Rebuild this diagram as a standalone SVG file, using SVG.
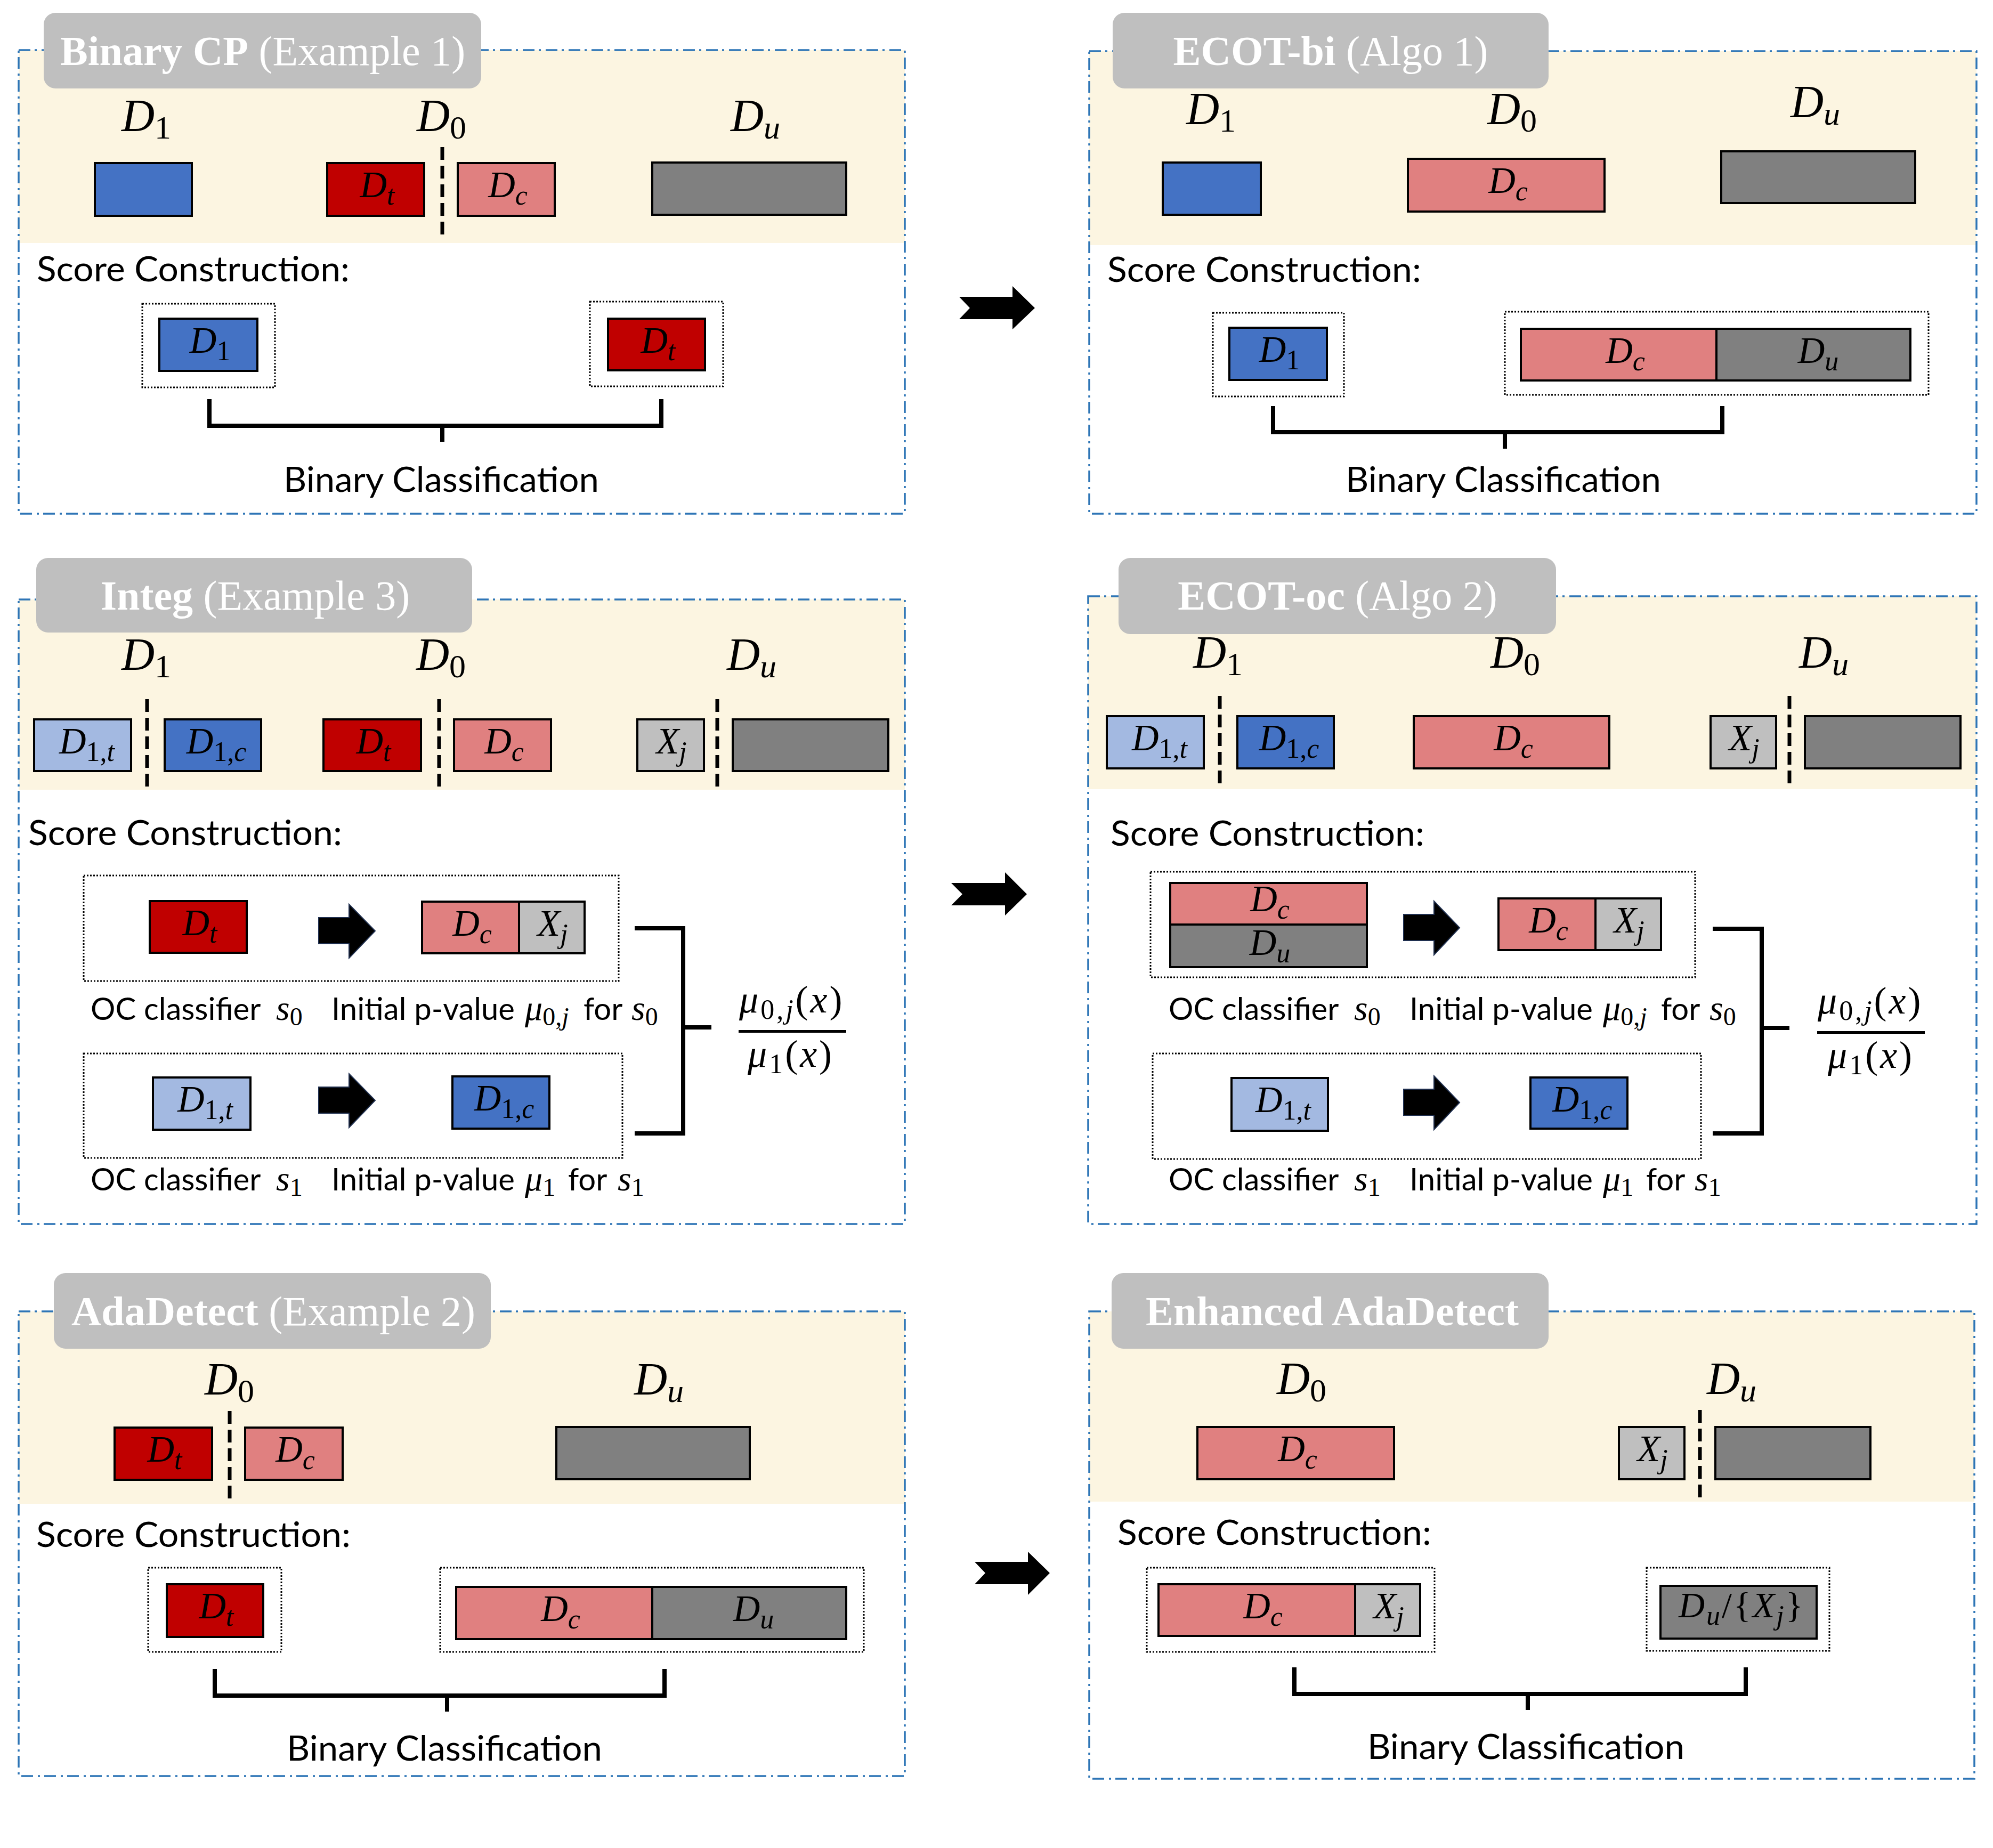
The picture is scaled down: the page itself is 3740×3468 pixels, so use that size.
<svg xmlns="http://www.w3.org/2000/svg" width="3740" height="3468" viewBox="0 0 3740 3468">
<style>
.title{font-family:"Liberation Serif",serif;font-size:78px;fill:#fff;text-anchor:middle}
.b{font-weight:bold}
.m{font-family:"Liberation Serif",serif;font-style:italic;fill:#000}
.L{font-size:86px}
.S{font-size:70px}
.sL{font-size:62px}
.sS{font-size:52px}
.up{font-style:normal}
.t{font-family:Lato,sans-serif;fill:#000}
.sc{font-size:66px}
.oc{font-size:58px}
.c{text-anchor:middle}
.border{fill:none;stroke:#2E75B6;stroke-width:3.5;stroke-dasharray:22 8 4 9}
.beige{fill:#FCF5E1}
.tab{fill:#BFBFBF}
.box{stroke:#000;stroke-width:4}
.blue{fill:#4472C4}.lblue{fill:#A3B9E1}.red{fill:#C00000}.pink{fill:#E08080}.gray{fill:#808080}.lgray{fill:#BFBFBF}
.dot{fill:none;stroke:#000;stroke-width:3;stroke-dasharray:3 3}
.sep{stroke:#000;stroke-width:7;stroke-dasharray:24 11}
.br{fill:none;stroke:#000;stroke-width:8}
.sa{fill:#000;stroke:#1F2F4F;stroke-width:2}
.big{fill:#000}
.fr{font-size:72px;letter-spacing:4px}
.fs{font-size:52px}
.ms{font-size:66px}
.mss{font-size:48px}
</style>
<rect width="3740" height="3468" fill="#fff"/>

<!-- Panel 1: Binary CP -->
<g id="panel-binary-cp">
  <rect class="beige" x="35" y="94" width="1663" height="362"/>
  <rect class="border" x="35" y="94" width="1663" height="870"/>
  <rect class="tab" x="82" y="24" width="821" height="142" rx="22"/>
  <text class="title" x="493" y="122"><tspan class="b">Binary CP</tspan> (Example 1)</text>
  <text class="m L" x="228" y="246">D<tspan class="sL up" dy="14">1</tspan></text>
  <text class="m L" x="782" y="246">D<tspan class="sL up" dy="14">0</tspan></text>
  <text class="m L" x="1371" y="246">D<tspan class="sL" dy="14">u</tspan></text>
  <rect class="box blue" x="178" y="306" width="182" height="99"/>
  <rect class="box red" x="614" y="306" width="182" height="99"/>
  <text class="m S c" x="708" y="370">D<tspan class="sS" dy="14">t</tspan></text>
  <line class="sep" x1="830" y1="276" x2="830" y2="441"/>
  <rect class="box pink" x="859" y="306" width="182" height="99"/>
  <text class="m S c" x="953" y="370">D<tspan class="sS" dy="14">c</tspan></text>
  <rect class="box gray" x="1224" y="305" width="364" height="98"/>
  <text class="t sc" x="69" y="528" textLength="587" lengthAdjust="spacingAndGlyphs">Score Construction:</text>
  <rect class="dot" x="267" y="570" width="249" height="157"/>
  <rect class="box blue" x="299" y="598" width="184" height="98"/>
  <text class="m S c" x="394" y="662">D<tspan class="sS up" dy="14">1</tspan></text>
  <rect class="dot" x="1107" y="566" width="250" height="159"/>
  <rect class="box red" x="1141" y="598" width="182" height="97"/>
  <text class="m S c" x="1235" y="662">D<tspan class="sS" dy="14">t</tspan></text>
  <text class="t sc" x="532" y="923" textLength="592" lengthAdjust="spacingAndGlyphs">Binary Classification</text>
</g>

<!-- Panel 2: ECOT-bi -->
<g id="panel-ecot-bi">
  <rect class="beige" x="2044" y="96" width="1665" height="364"/>
  <rect class="border" x="2044" y="96" width="1665" height="868"/>
  <rect class="tab" x="2088" y="24" width="818" height="142" rx="22"/>
  <text class="title" x="2497" y="122"><tspan class="b">ECOT-bi</tspan> (Algo 1)</text>
  <text class="m L" x="2226" y="233">D<tspan class="sL up" dy="14">1</tspan></text>
  <text class="m L" x="2791" y="233">D<tspan class="sL up" dy="14">0</tspan></text>
  <text class="m L" x="3360" y="220">D<tspan class="sL" dy="14">u</tspan></text>
  <rect class="box blue" x="2182" y="305" width="184" height="98"/>
  <rect class="box pink" x="2642" y="298" width="369" height="99"/>
  <text class="m S c" x="2830" y="362">D<tspan class="sS" dy="14">c</tspan></text>
  <rect class="box gray" x="3230" y="284" width="364" height="97"/>
  <text class="t sc" x="2078" y="529" textLength="589" lengthAdjust="spacingAndGlyphs">Score Construction:</text>
  <rect class="dot" x="2276" y="587" width="246" height="157"/>
  <rect class="box blue" x="2307" y="615" width="183" height="98"/>
  <text class="m S c" x="2401" y="679">D<tspan class="sS up" dy="14">1</tspan></text>
  <rect class="dot" x="2824" y="585" width="795" height="156"/>
  <rect class="box pink" x="2854" y="617" width="367" height="97"/>
  <rect class="box gray" x="3221" y="617" width="364" height="97"/>
  <text class="m S c" x="3050" y="681">D<tspan class="sS" dy="14">c</tspan></text>
  <text class="m S c" x="3412" y="681">D<tspan class="sS" dy="14">u</tspan></text>
  <text class="t sc" x="2525" y="923" textLength="592" lengthAdjust="spacingAndGlyphs">Binary Classification</text>
</g>

<!-- Panel 3: Integ -->
<g id="panel-integ">
  <rect class="beige" x="35" y="1125" width="1663" height="357"/>
  <rect class="border" x="35" y="1125" width="1663" height="1172"/>
  <rect class="tab" x="68" y="1047" width="818" height="140" rx="22"/>
  <text class="title" x="479" y="1144"><tspan class="b">Integ</tspan> (Example 3)</text>
  <text class="m L" x="228" y="1257">D<tspan class="sL up" dy="14">1</tspan></text>
  <text class="m L" x="781" y="1257">D<tspan class="sL up" dy="14">0</tspan></text>
  <text class="m L" x="1364" y="1257">D<tspan class="sL" dy="14">u</tspan></text>
  <rect class="box lblue" x="64" y="1350" width="182" height="97"/>
  <text class="m S c" x="163" y="1414">D<tspan class="sS up" dy="14">1,</tspan><tspan class="sS">t</tspan></text>
  <line class="sep" x1="276" y1="1312" x2="276" y2="1478"/>
  <rect class="box blue" x="309" y="1350" width="181" height="97"/>
  <text class="m S c" x="406" y="1414">D<tspan class="sS up" dy="14">1,</tspan><tspan class="sS">c</tspan></text>
  <rect class="box red" x="607" y="1350" width="183" height="97"/>
  <text class="m S c" x="701" y="1414">D<tspan class="sS" dy="14">t</tspan></text>
  <line class="sep" x1="824" y1="1312" x2="824" y2="1478"/>
  <rect class="box pink" x="852" y="1350" width="182" height="97"/>
  <text class="m S c" x="946" y="1414">D<tspan class="sS" dy="14">c</tspan></text>
  <rect class="box lgray" x="1196" y="1350" width="125" height="97"/>
  <text class="m S c" x="1260" y="1414">X<tspan class="sS" dy="14">j</tspan></text>
  <line class="sep" x1="1346" y1="1312" x2="1346" y2="1478"/>
  <rect class="box gray" x="1375" y="1350" width="292" height="97"/>
  <text class="t sc" x="53" y="1586" textLength="589" lengthAdjust="spacingAndGlyphs">Score Construction:</text>
  <rect class="dot" x="157" y="1643" width="1004" height="198"/>
  <rect class="box red" x="281" y="1691" width="182" height="97"/>
  <text class="m S c" x="375" y="1755">D<tspan class="sS" dy="14">t</tspan></text>
  <polygon class="sa" points="598,1722 655,1722 655,1697 704,1747 655,1798 655,1771 598,1771"/>
  <rect class="box pink" x="792" y="1692" width="182" height="97"/>
  <rect class="box lgray" x="974" y="1692" width="123" height="97"/>
  <text class="m S c" x="886" y="1756">D<tspan class="sS" dy="14">c</tspan></text>
  <text class="m S c" x="1037" y="1756">X<tspan class="sS" dy="14">j</tspan></text>
  <text class="t oc" x="170" y="1914">OC classifier<tspan class="m ms" x="518">s</tspan><tspan class="m up mss" dy="10">0</tspan></text>
  <text class="t oc" x="622" y="1914">Initial p-value<tspan class="m ms" x="985">μ</tspan><tspan class="m up mss" dy="10">0,</tspan><tspan class="m mss">j</tspan><tspan x="1095" dy="-10">for</tspan><tspan class="m ms" x="1185">s</tspan><tspan class="m up mss" dy="10">0</tspan></text>
  <rect class="dot" x="157" y="1977" width="1011" height="196"/>
  <rect class="box lblue" x="287" y="2022" width="183" height="98"/>
  <text class="m S c" x="385" y="2086">D<tspan class="sS up" dy="14">1,</tspan><tspan class="sS">t</tspan></text>
  <polygon class="sa" points="598,2040 655,2040 655,2015 704,2065 655,2116 655,2089 598,2089"/>
  <rect class="box blue" x="849" y="2020" width="182" height="98"/>
  <text class="m S c" x="946" y="2084">D<tspan class="sS up" dy="14">1,</tspan><tspan class="sS">c</tspan></text>
  <text class="t oc" x="170" y="2234">OC classifier<tspan class="m ms" x="518">s</tspan><tspan class="m up mss" dy="10">1</tspan></text>
  <text class="t oc" x="622" y="2234">Initial p-value<tspan class="m ms" x="985">μ</tspan><tspan class="m up mss" dy="10">1</tspan><tspan x="1066" dy="-10">for</tspan><tspan class="m ms" x="1159">s</tspan><tspan class="m up mss" dy="10">1</tspan></text>
  <text class="m fr" x="1387" y="1900">μ<tspan class="fs up" dy="12">0,</tspan><tspan class="fs">j</tspan><tspan class="up" dy="-12">(</tspan>x<tspan class="up">)</tspan></text>
  <rect x="1386" y="1933" width="202" height="5" fill="#000"/>
  <text class="m fr" x="1403" y="2002">μ<tspan class="fs up" dy="12">1</tspan><tspan class="up" dy="-12">(</tspan>x<tspan class="up">)</tspan></text>
</g>

<!-- Panel 4: ECOT-oc -->
<g id="panel-ecot-oc">
  <rect class="beige" x="2042" y="1119" width="1667" height="362"/>
  <rect class="border" x="2042" y="1119" width="1667" height="1178"/>
  <rect class="tab" x="2099" y="1047" width="821" height="143" rx="22"/>
  <text class="title" x="2510" y="1144"><tspan class="b">ECOT-oc</tspan> (Algo 2)</text>
  <text class="m L" x="2239" y="1253">D<tspan class="sL up" dy="14">1</tspan></text>
  <text class="m L" x="2797" y="1253">D<tspan class="sL up" dy="14">0</tspan></text>
  <text class="m L" x="3376" y="1253">D<tspan class="sL" dy="14">u</tspan></text>
  <rect class="box lblue" x="2077" y="1344" width="182" height="98"/>
  <text class="m S c" x="2176" y="1408">D<tspan class="sS up" dy="14">1,</tspan><tspan class="sS">t</tspan></text>
  <line class="sep" x1="2289" y1="1306" x2="2289" y2="1472"/>
  <rect class="box blue" x="2322" y="1344" width="181" height="98"/>
  <text class="m S c" x="2419" y="1408">D<tspan class="sS up" dy="14">1,</tspan><tspan class="sS">c</tspan></text>
  <rect class="box pink" x="2653" y="1344" width="367" height="98"/>
  <text class="m S c" x="2840" y="1408">D<tspan class="sS" dy="14">c</tspan></text>
  <rect class="box lgray" x="3210" y="1344" width="123" height="98"/>
  <text class="m S c" x="3273" y="1408">X<tspan class="sS" dy="14">j</tspan></text>
  <line class="sep" x1="3358" y1="1306" x2="3358" y2="1472"/>
  <rect class="box gray" x="3387" y="1344" width="292" height="98"/>
  <text class="t sc" x="2084" y="1587" textLength="589" lengthAdjust="spacingAndGlyphs">Score Construction:</text>
  <rect class="dot" x="2159" y="1636" width="1022" height="198"/>
  <rect class="box pink" x="2196" y="1657" width="369" height="78"/>
  <rect class="box gray" x="2196" y="1735" width="369" height="80"/>
  <text class="m S c" x="2383" y="1710">D<tspan class="sS" dy="14">c</tspan></text>
  <text class="m S c" x="2383" y="1792">D<tspan class="sS" dy="14">u</tspan></text>
  <polygon class="sa" points="2634,1716 2691,1716 2691,1691 2739,1741 2691,1792 2691,1765 2634,1765"/>
  <rect class="box pink" x="2812" y="1686" width="182" height="97"/>
  <rect class="box lgray" x="2994" y="1686" width="123" height="97"/>
  <text class="m S c" x="2906" y="1750">D<tspan class="sS" dy="14">c</tspan></text>
  <text class="m S c" x="3057" y="1750">X<tspan class="sS" dy="14">j</tspan></text>
  <text class="t oc" x="2193" y="1914">OC classifier<tspan class="m ms" x="2541">s</tspan><tspan class="m up mss" dy="10">0</tspan></text>
  <text class="t oc" x="2645" y="1914">Initial p-value<tspan class="m ms" x="3008">μ</tspan><tspan class="m up mss" dy="10">0,</tspan><tspan class="m mss">j</tspan><tspan x="3117" dy="-10">for</tspan><tspan class="m ms" x="3208">s</tspan><tspan class="m up mss" dy="10">0</tspan></text>
  <rect class="dot" x="2163" y="1977" width="1029" height="198"/>
  <rect class="box lblue" x="2311" y="2023" width="181" height="99"/>
  <text class="m S c" x="2408" y="2087">D<tspan class="sS up" dy="14">1,</tspan><tspan class="sS">t</tspan></text>
  <polygon class="sa" points="2634,2044 2691,2044 2691,2019 2739,2069 2691,2120 2691,2093 2634,2093"/>
  <rect class="box blue" x="2872" y="2022" width="182" height="96"/>
  <text class="m S c" x="2969" y="2086">D<tspan class="sS up" dy="14">1,</tspan><tspan class="sS">c</tspan></text>
  <text class="t oc" x="2193" y="2234">OC classifier<tspan class="m ms" x="2541">s</tspan><tspan class="m up mss" dy="10">1</tspan></text>
  <text class="t oc" x="2645" y="2234">Initial p-value<tspan class="m ms" x="3008">μ</tspan><tspan class="m up mss" dy="10">1</tspan><tspan x="3089" dy="-10">for</tspan><tspan class="m ms" x="3180">s</tspan><tspan class="m up mss" dy="10">1</tspan></text>
  <text class="m fr" x="3411" y="1902">μ<tspan class="fs up" dy="12">0,</tspan><tspan class="fs">j</tspan><tspan class="up" dy="-12">(</tspan>x<tspan class="up">)</tspan></text>
  <rect x="3410" y="1935" width="202" height="5" fill="#000"/>
  <text class="m fr" x="3430" y="2004">μ<tspan class="fs up" dy="12">1</tspan><tspan class="up" dy="-12">(</tspan>x<tspan class="up">)</tspan></text>
</g>

<!-- Panel 5: AdaDetect -->
<g id="panel-adadetect">
  <rect class="beige" x="35" y="2461" width="1663" height="361"/>
  <rect class="border" x="35" y="2461" width="1663" height="872"/>
  <rect class="tab" x="101" y="2389" width="820" height="142" rx="22"/>
  <text class="title" x="513" y="2487"><tspan class="b">AdaDetect</tspan> (Example 2)</text>
  <text class="m L" x="384" y="2617">D<tspan class="sL up" dy="14">0</tspan></text>
  <text class="m L" x="1190" y="2617">D<tspan class="sL" dy="14">u</tspan></text>
  <rect class="box red" x="215" y="2679" width="183" height="98"/>
  <text class="m S c" x="309" y="2743">D<tspan class="sS" dy="14">t</tspan></text>
  <line class="sep" x1="431" y1="2648" x2="431" y2="2815"/>
  <rect class="box pink" x="460" y="2679" width="183" height="98"/>
  <text class="m S c" x="554" y="2743">D<tspan class="sS" dy="14">c</tspan></text>
  <rect class="box gray" x="1044" y="2678" width="363" height="98"/>
  <text class="t sc" x="68" y="2903" textLength="590" lengthAdjust="spacingAndGlyphs">Score Construction:</text>
  <rect class="dot" x="278" y="2942" width="250" height="158"/>
  <rect class="box red" x="313" y="2973" width="181" height="99"/>
  <text class="m S c" x="406" y="3037">D<tspan class="sS" dy="14">t</tspan></text>
  <rect class="dot" x="826" y="2942" width="795" height="158"/>
  <rect class="box pink" x="856" y="2978" width="368" height="98"/>
  <rect class="box gray" x="1224" y="2978" width="364" height="98"/>
  <text class="m S c" x="1052" y="3042">D<tspan class="sS" dy="14">c</tspan></text>
  <text class="m S c" x="1414" y="3042">D<tspan class="sS" dy="14">u</tspan></text>
  <text class="t sc" x="538" y="3304" textLength="592" lengthAdjust="spacingAndGlyphs">Binary Classification</text>
</g>

<!-- Panel 6: Enhanced AdaDetect -->
<g id="panel-enhanced-adadetect">
  <rect class="beige" x="2044" y="2461" width="1661" height="357"/>
  <rect class="border" x="2044" y="2461" width="1661" height="877"/>
  <rect class="tab" x="2086" y="2389" width="820" height="142" rx="22"/>
  <text class="title" x="2500" y="2487"><tspan class="b">Enhanced AdaDetect</tspan></text>
  <text class="m L" x="2396" y="2616">D<tspan class="sL up" dy="14">0</tspan></text>
  <text class="m L" x="3203" y="2616">D<tspan class="sL" dy="14">u</tspan></text>
  <rect class="box pink" x="2247" y="2678" width="369" height="98"/>
  <text class="m S c" x="2435" y="2742">D<tspan class="sS" dy="14">c</tspan></text>
  <rect class="box lgray" x="3038" y="2678" width="123" height="98"/>
  <text class="m S c" x="3101" y="2742">X<tspan class="sS" dy="14">j</tspan></text>
  <line class="sep" x1="3190" y1="2646" x2="3190" y2="2813"/>
  <rect class="box gray" x="3219" y="2678" width="291" height="98"/>
  <text class="t sc" x="2097" y="2899" textLength="589" lengthAdjust="spacingAndGlyphs">Score Construction:</text>
  <rect class="dot" x="2152" y="2942" width="540" height="158"/>
  <rect class="box pink" x="2174" y="2973" width="369" height="97"/>
  <rect class="box lgray" x="2543" y="2973" width="122" height="97"/>
  <text class="m S c" x="2370" y="3037">D<tspan class="sS" dy="14">c</tspan></text>
  <text class="m S c" x="2606" y="3037">X<tspan class="sS" dy="14">j</tspan></text>
  <rect class="dot" x="3090" y="2942" width="343" height="156"/>
  <rect class="box gray" x="3116" y="2976" width="293" height="99"/>
  <text class="m" x="3150" y="3035" style="font-size:68px;letter-spacing:3px">D<tspan class="sS" dy="14">u</tspan><tspan class="up" dy="-14">/{</tspan>X<tspan class="sS" dy="14">j</tspan><tspan class="up" dy="-14">}</tspan></text>
  <text class="t sc" x="2566" y="3301" textLength="595" lengthAdjust="spacingAndGlyphs">Binary Classification</text>
</g>

<!-- Connectors: brackets and transition arrows -->
<g id="connectors">
  <path class="br" d="M393 749 V799 H1241 V749 M830 799 V829"/>
  <path class="br" d="M2389 762 V811 H3232 V762 M2824 811 V842"/>
  <path class="br" d="M1191 1742 H1282 V2127 H1191 M1282 1928 H1335"/>
  <path class="br" d="M3214 1743 H3306 V2127 H3214 M3306 1929 H3358"/>
  <path class="br" d="M403 3132 V3182 H1247 V3132 M839 3182 V3212"/>
  <path class="br" d="M2429 3129 V3179 H3276 V3129 M2867 3179 V3209"/>
  <polygon class="big" points="1800,557 1900,557 1900,537 1942,578 1900,618 1900,599 1800,599 1820,578"/>
  <polygon class="big" points="1785,1657 1886,1657 1886,1637 1927,1678 1886,1718 1886,1699 1785,1699 1806,1678"/>
  <polygon class="big" points="1829,2931 1929,2931 1929,2912 1970,2952 1929,2993 1929,2973 1829,2973 1849,2952"/>
</g>
</svg>
